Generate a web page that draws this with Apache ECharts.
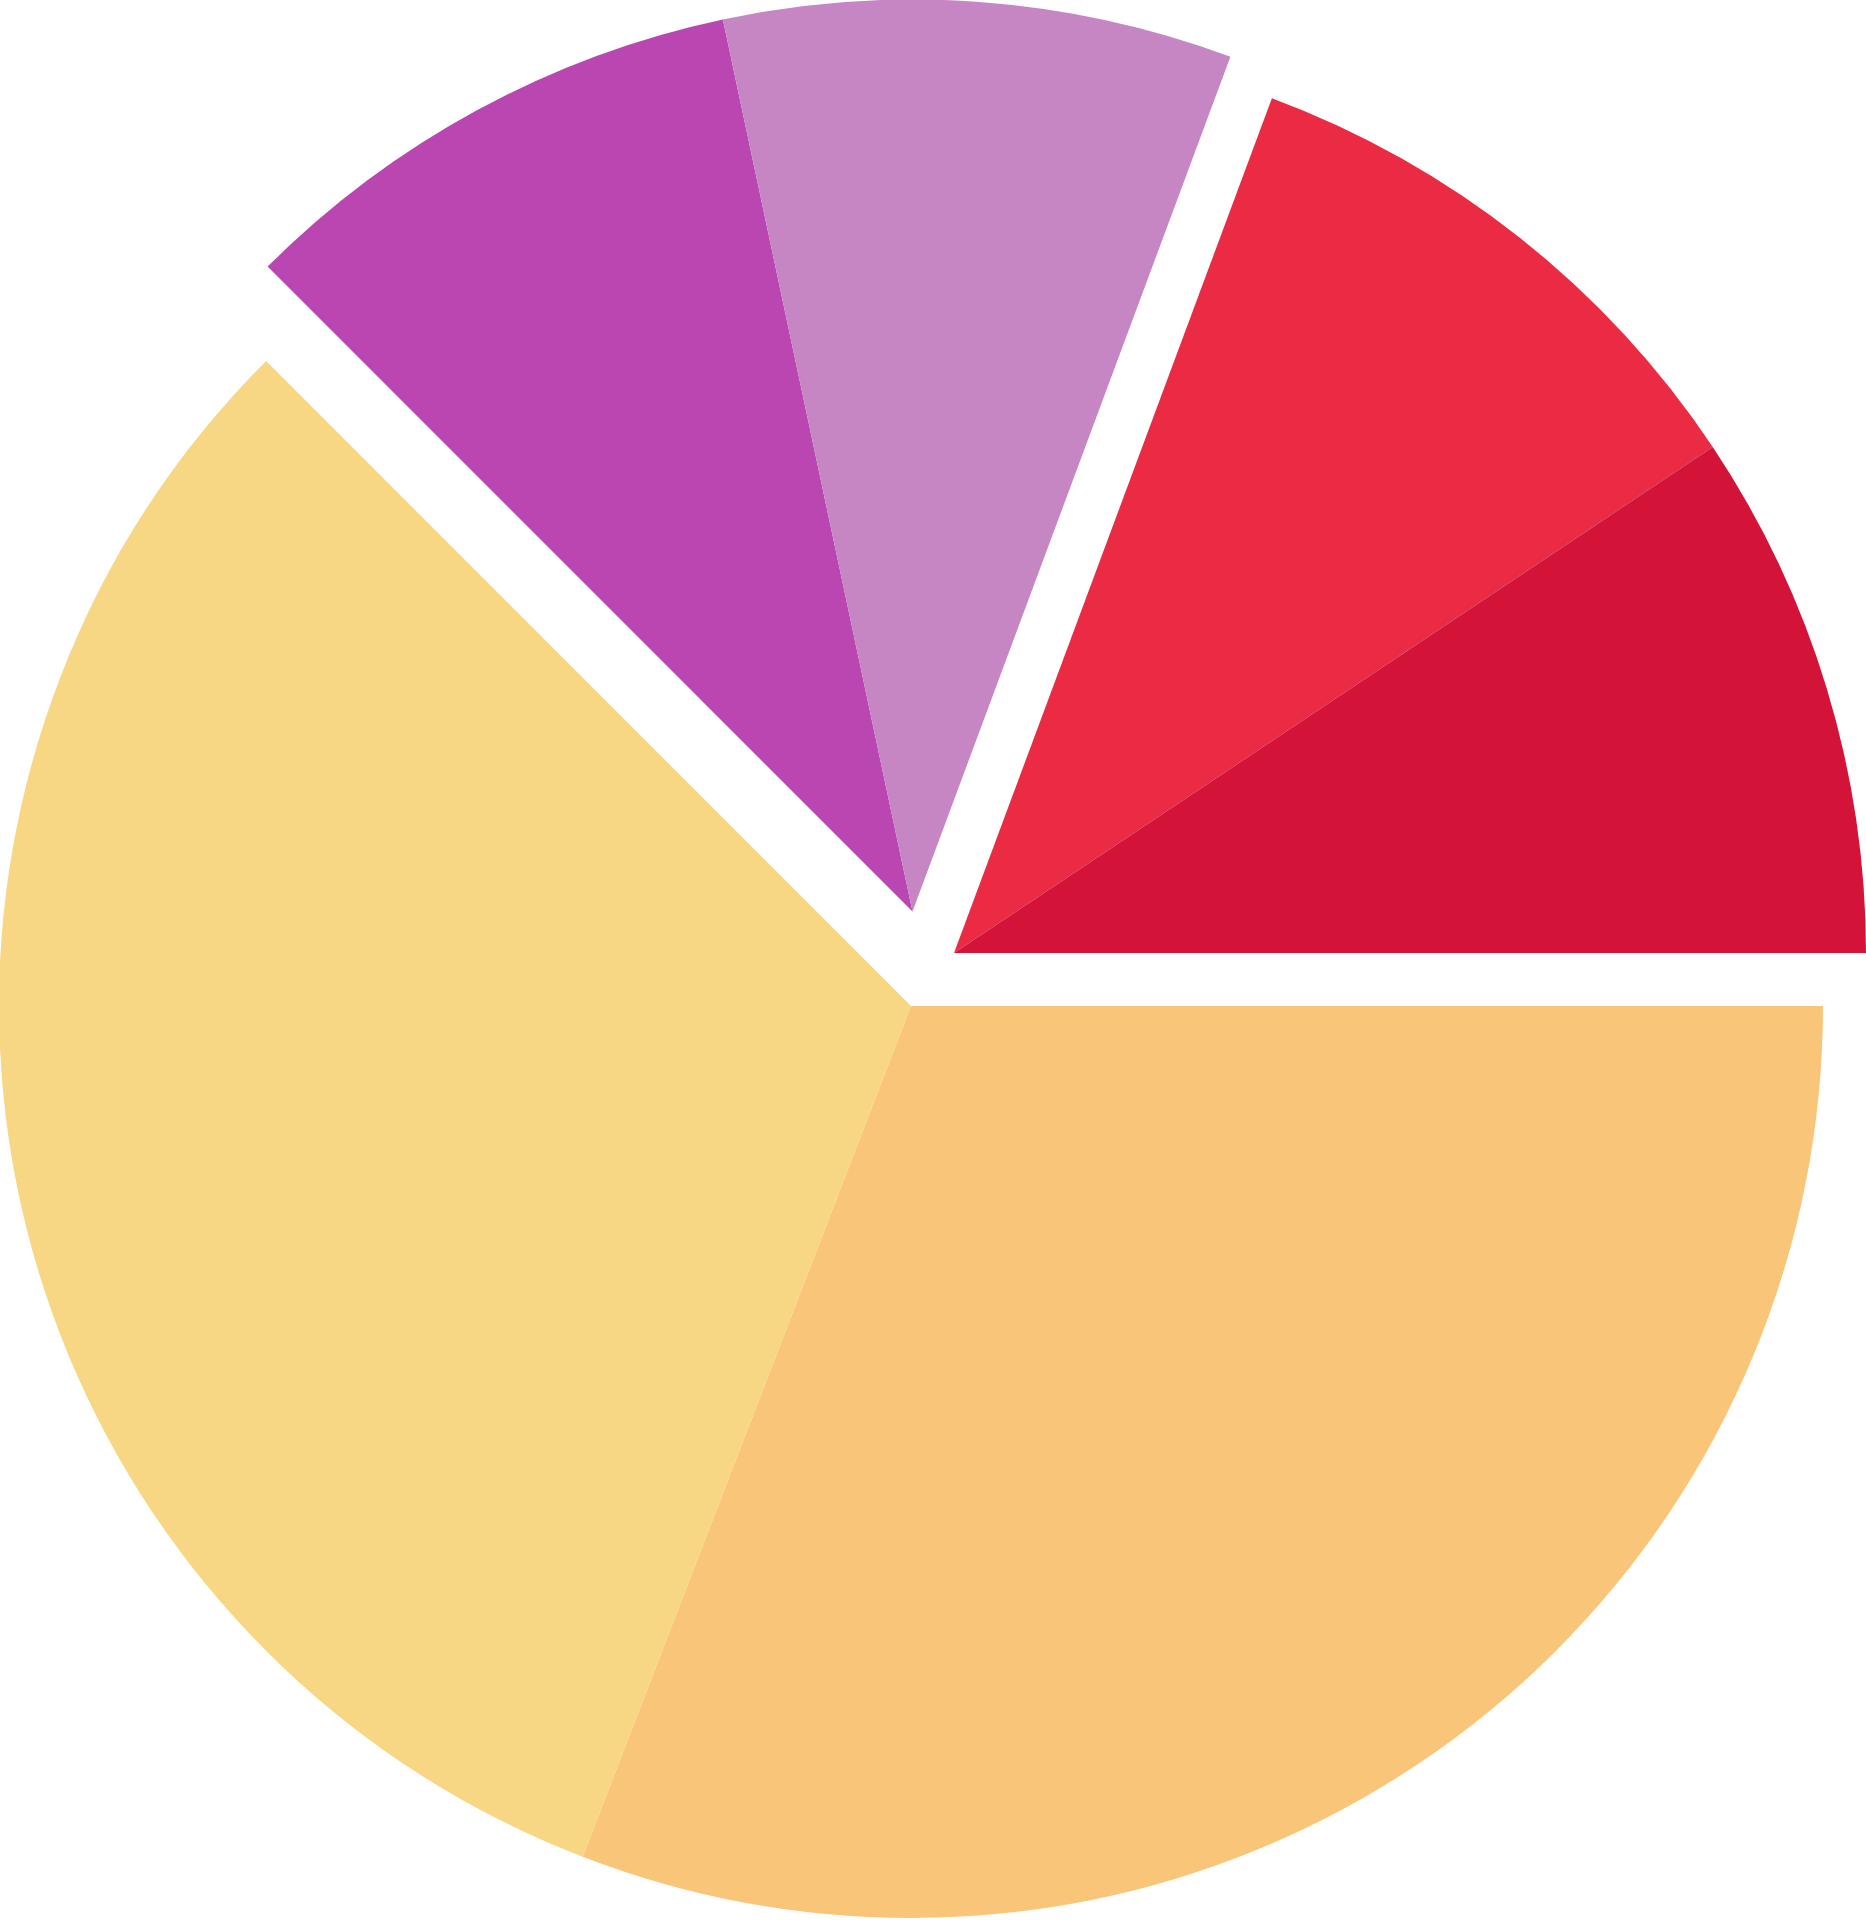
<!DOCTYPE html>
<html>
<head>
<meta charset="utf-8">
<script src="https://cdn.jsdelivr.net/npm/echarts@6/dist/echarts.min.js"></script>
<style>
html,body{margin:0;padding:0;background:#fff;}
#chart{width:1866px;height:1920px;}
</style>
</head>
<body>
<div id="chart"></div>
<script>
// Slice values (in degrees of the full circle), clockwise from 3 o'clock
const categories = ['Orange', 'Yellow', 'Purple', 'Light purple', 'Red', 'Dark red'];
const values = [111.1, 113.9, 33.0, 32.4, 35.9, 33.7];
const colors = ['#F9C679', '#F7D684', '#B946B1', '#C685C3', '#EA2B43', '#D41339'];
// Which exploded group each slice belongs to
const groups = [0, 0, 1, 1, 2, 2];

const total = values.reduce((a, b) => a + b, 0);
const groupLayout = [
  { center: [911, 1006], radius: 912 },
  { center: [912.5, 911.5], radius: 912 },
  { center: [954, 953], radius: 912 }
];

function filler(v) {
  return { value: v, name: '', itemStyle: { color: 'rgba(0,0,0,0)' }, label: { show: false }, tooltip: { show: false } };
}

const series = groupLayout.map((g, gi) => {
  const data = [];
  let before = 0, inside = 0;
  values.forEach((v, i) => {
    if (groups[i] < gi) before += v;
  });
  if (before > 0) data.push(filler(before));
  values.forEach((v, i) => {
    if (groups[i] === gi) {
      inside += v;
      data.push({ value: v, name: categories[i], itemStyle: { color: colors[i] } });
    }
  });
  const after = total - before - inside;
  if (after > 0.0001) data.push(filler(after));
  return {
    type: 'pie',
    center: g.center,
    radius: [0, g.radius],
    startAngle: 0,
    clockwise: true,
    silent: true,
    animation: false,
    label: { show: false },
    labelLine: { show: false },
    itemStyle: { borderWidth: 0 },
    emphasis: { disabled: true },
    data: data
  };
});

const chart = echarts.init(document.getElementById('chart'), null, { renderer: 'canvas' });
chart.setOption({
  backgroundColor: '#ffffff',
  animation: false,
  series: series
});
</script>
</body>
</html>
